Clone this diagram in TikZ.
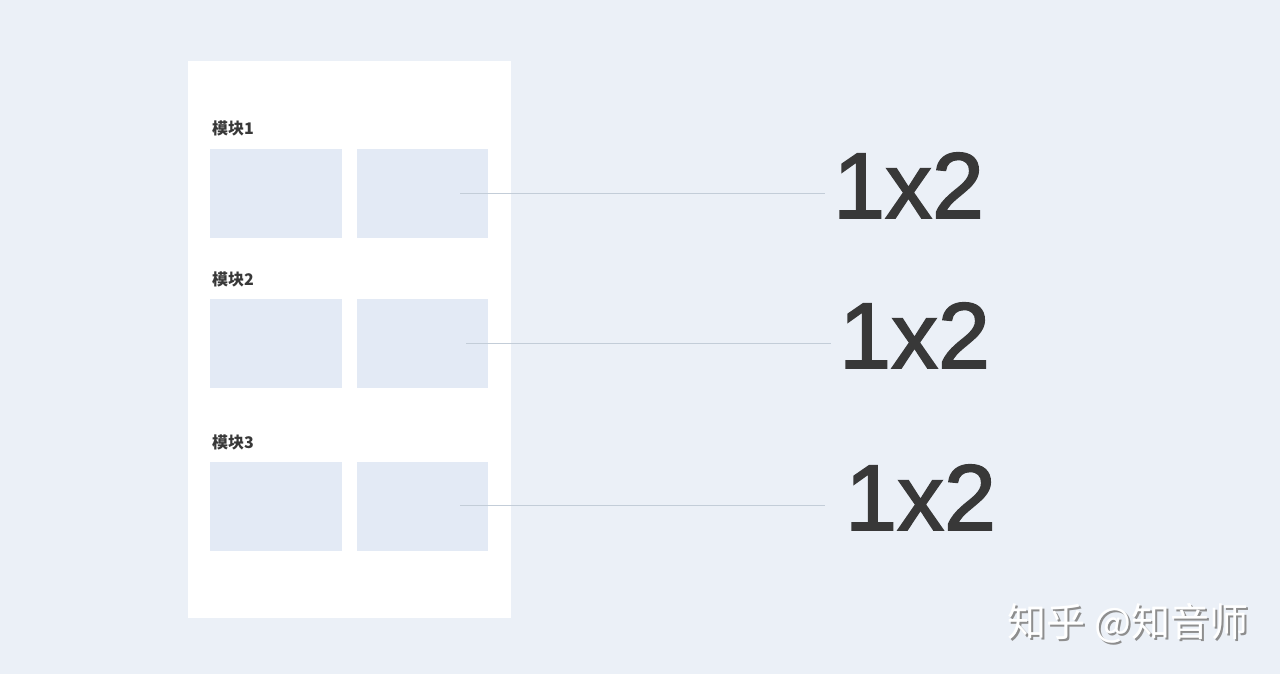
\documentclass[tikz,border=0pt]{standalone}
\usepackage{fontspec}
\setmainfont{Liberation Sans}
\newfontfamily\bigfont{Liberation Sans}[FakeBold=1.8]
\newfontfamily\cjk{Noto Sans CJK SC}
\definecolor{bgc}{HTML}{EBF0F7}
\definecolor{cellc}{HTML}{E3EAF5}
\definecolor{linec}{HTML}{C3CDD8}
\definecolor{txtc}{HTML}{383838}
\definecolor{shadowc}{HTML}{8E8E8E}
\tikzset{
  cell/.style={fill=cellc, draw=none},
  lbl/.style={anchor=west, inner sep=0pt, font=\cjk\bfseries\fontsize{16}{16}\selectfont, text=txtc},
  big/.style={anchor=base west, inner sep=0pt, font=\bigfont\fontsize{93.5}{93.5}\selectfont, text=txtc},
  leader/.style={draw=linec, line width=0.8pt},
  wmark/.style={anchor=west, inner sep=0pt, font=\cjk\fontsize{39}{39}\selectfont},
}
\begin{document}
\begin{tikzpicture}[x=1pt,y=-1pt]
\useasboundingbox (0,0) rectangle (1280,674);
\fill[bgc] (0,0) rectangle (1280,674);
\fill[white] (188,61) rectangle (511,618);
% row 1
\node[lbl] (l1) at (212,128.5) {模块1};
\fill[cell] (210,149) rectangle (342,238);
\fill[cell] (357,149) rectangle (488,238);
% row 2
\node[lbl] (l2) at (212,279.5) {模块2};
\fill[cell] (210,299) rectangle (342,388);
\fill[cell] (357,299) rectangle (488,388);
% row 3
\node[lbl] (l3) at (212,442.5) {模块3};
\fill[cell] (210,462) rectangle (342,551);
\fill[cell] (357,462) rectangle (488,551);
% big labels
\node[big] (t1) at (833,218) {1x2};
\node[big] (t2) at (839,368) {1x2};
\node[big] (t3) at (845,530) {1x2};
% leaders
\coordinate (s1) at (460,193);
\coordinate (e1) at (825,193);
\coordinate (s2) at (466,343);
\coordinate (e2) at (831,343);
\coordinate (s3) at (460,505);
\coordinate (e3) at (825,505);
\draw[leader] (s1) -- (e1);
\draw[leader] (s2) -- (e2);
\draw[leader] (s3) -- (e3);
% watermark
\node[wmark, text=shadowc] (wms) at (1009.5,625.5) {知乎 @知音师};
\node[wmark, text=white] (wm) at (1007.5,623.5) {知乎 @知音师};
\end{tikzpicture}
\end{document}
